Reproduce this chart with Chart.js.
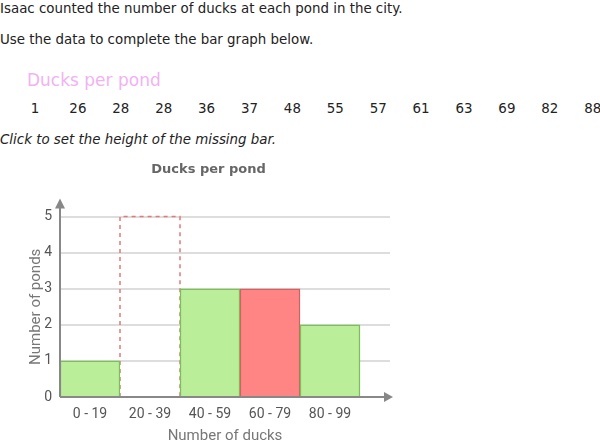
<!DOCTYPE html>
<html>
<head>
  <meta charset="utf-8">
  <title>Ducks per pond</title>
  <script src="https://cdn.jsdelivr.net/npm/chart.js"></script>
  <style>
    body {
      margin: 0;
      width: 600px;
      height: 442px;
      overflow: hidden;
      background: white;
      font-family: "DejaVu Sans", Verdana, sans-serif;
      font-size: 13.4px;
      color: #222;
    }
    .riga {
      position: absolute;
      left: 0;
      white-space: nowrap;
    }
    #titoloDati {
      position: absolute;
      left: 27px;
      top: 70px;
      font-size: 17px;
      color: #f2b2f2;
    }
    #numeri span {
      position: absolute;
      top: 101px;
      width: 40px;
      text-align: center;
    }
    #contenitore {
      position: absolute;
      left: 0;
      top: 150px;
      width: 420px;
      height: 295px;
    }
  </style>
</head>
<body>
  <div class="riga" style="top:1px">Isaac counted the number of ducks at each pond in the city.</div>
  <div class="riga" style="top:32px">Use the data to complete the bar graph below.</div>
  <div id="titoloDati">Ducks per pond</div>
  <div id="numeri"></div>
  <div class="riga" style="top:132px; font-style:italic">Click to set the height of the missing bar.</div>
  <div id="contenitore"><canvas id="grafico"></canvas></div>

  <script>
    // dati
    var anatre = [1, 26, 28, 28, 36, 37, 48, 55, 57, 61, 63, 69, 82, 88];
    var categorie = ["0 - 19", "20 - 39", "40 - 59", "60 - 79", "80 - 99"];
    var altezze = [1, 0, 3, 3, 2];            // barre disegnate
    var coloriBarre = ["green", "green", "green", "red", "green"];
    var barraMancante = 1;                      // indice della barra da completare
    var altezzaMancante = 5;                    // contorno tratteggiato
    var tickY = [0, 1, 2, 3, 4, 5];

    // scrivo la lista dei numeri (centri a passo fisso)
    var numeriDiv = document.getElementById("numeri");
    anatre.forEach(function (n, i) {
      var s = document.createElement("span");
      s.textContent = n;
      s.style.left = (35 + i * 42.9 - 20) + "px";
      numeriDiv.appendChild(s);
    });

    var verde = { fill: "#bbee99", bordo: "#7dbe5c" };
    var rosso = { fill: "#ff8585", bordo: "#d06262" };

    // punti per la scala lineare (centro della categoria = indice + 0.5)
    var punti = altezze.map(function (v, i) { return { x: i + 0.5, y: v }; });

    // plugin: contorno tratteggiato della barra mancante + frecce degli assi
    var pluginExtra = {
      id: "extra",
      beforeDatasetsDraw: function (chart) {
        var ctx = chart.ctx;
        var sx = chart.scales.x, sy = chart.scales.y;
        var x0 = sx.getPixelForValue(barraMancante);
        var x1 = sx.getPixelForValue(barraMancante + 1);
        var yTop = sy.getPixelForValue(altezzaMancante);
        var yBase = sy.getPixelForValue(0);
        ctx.save();
        ctx.strokeStyle = "#e07a7a";
        ctx.lineWidth = 1.5;
        ctx.setLineDash([4, 4]);
        ctx.beginPath();
        ctx.moveTo(x0, yBase);
        ctx.lineTo(x0, yTop);
        ctx.lineTo(x1, yTop);
        ctx.lineTo(x1, yBase);
        ctx.stroke();
        ctx.restore();
      },
      afterDraw: function (chart) {
        var ctx = chart.ctx;
        var a = chart.chartArea;
        ctx.save();
        ctx.strokeStyle = "#888";
        ctx.fillStyle = "#888";
        ctx.lineWidth = 2;
        // asse y
        ctx.beginPath();
        ctx.moveTo(a.left, a.bottom);
        ctx.lineTo(a.left, a.top - 10);
        ctx.stroke();
        ctx.beginPath();
        ctx.moveTo(a.left - 5, a.top - 8);
        ctx.lineTo(a.left, a.top - 18);
        ctx.lineTo(a.left + 5, a.top - 8);
        ctx.closePath();
        ctx.fill();
        // asse x
        ctx.beginPath();
        ctx.moveTo(a.left, a.bottom);
        ctx.lineTo(a.right - 4, a.bottom);
        ctx.stroke();
        ctx.beginPath();
        ctx.moveTo(a.right - 6, a.bottom - 5);
        ctx.lineTo(a.right + 3, a.bottom);
        ctx.lineTo(a.right - 6, a.bottom + 5);
        ctx.closePath();
        ctx.fill();
        ctx.restore();
      }
    };

    new Chart(document.getElementById("grafico"), {
      type: "bar",
      data: {
        datasets: [{
          data: punti,
          backgroundColor: coloriBarre.map(function (c) { return c === "red" ? rosso.fill : verde.fill; }),
          borderColor: coloriBarre.map(function (c) { return c === "red" ? rosso.bordo : verde.bordo; }),
          borderWidth: 1.5,
          barPercentage: 1,
          categoryPercentage: 1
        }]
      },
      options: {
        responsive: true,
        maintainAspectRatio: false,
        animation: false,
        layout: { padding: { left: 27, right: 30, top: 0, bottom: 0 } },
        plugins: {
          legend: { display: false },
          tooltip: { enabled: false },
          title: {
            display: true,
            text: "Ducks per pond",
            color: "#666",
            font: { family: "'DejaVu Sans', Verdana, sans-serif", size: 13, weight: "bold" },
            padding: { top: 12, bottom: 39 }
          }
        },
        scales: {
          x: {
            type: "linear",
            offset: false,
            min: 0,
            max: 5.5,
            grid: { display: false },
            border: { display: false },
            afterBuildTicks: function (scale) {
              scale.ticks = categorie.map(function (c, i) { return { value: i + 0.5 }; });
            },
            afterFit: function (scale) { scale.height = 48; },
            ticks: {
              autoSkip: false,
              maxRotation: 0,
              padding: 1,
              color: "#555",
              font: { family: "Roboto", size: 14 },
              callback: function (v) { return categorie[Math.round(v - 0.5)]; }
            },
            title: {
              display: true,
              text: "Number of ducks",
              color: "#777",
              font: { family: "Roboto", size: 15 },
              padding: { top: 0, bottom: 0 }
            }
          },
          y: {
            min: 0,
            max: 5,
            afterBuildTicks: function (scale) {
              scale.ticks = tickY.map(function (v) { return { value: v }; });
            },
            afterFit: function (scale) { scale.width = 33; },
            grid: { color: "#dddddd", lineWidth: 2, drawTicks: false },
            border: { display: false },
            ticks: {
              padding: 8,
              color: "#555",
              font: { family: "Roboto", size: 14 }
            },
            title: {
              display: true,
              text: "Number of ponds",
              color: "#777",
              font: { family: "Roboto", size: 15 },
              padding: { top: 0, bottom: 0 }
            }
          }
        }
      },
      plugins: [pluginExtra]
    });
  </script>
</body>
</html>
